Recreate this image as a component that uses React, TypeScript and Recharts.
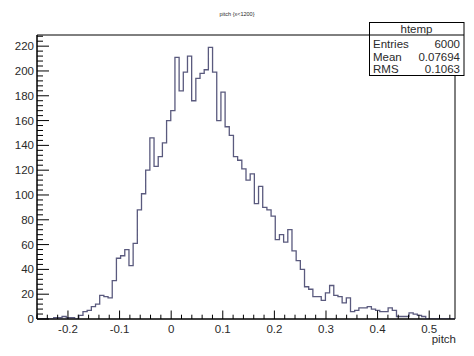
import React from "react";
import { LineChart, Line, XAxis, YAxis, ReferenceArea } from "recharts";

// ---- data ----
const X_MIN = -0.26;
const X_MAX = 0.55;
const N_BINS = 100;
const Y_MAX = 229;

const binCounts = [
  0, 0, 0, 0, 1, 1, 2, 1, 1, 0,
  3, 6, 7, 10, 12, 19, 18, 17, 31, 49,
  51, 56, 43, 61, 88, 101, 120, 146, 123, 131,
  142, 160, 168, 211, 184, 199, 212, 176, 194, 198,
  201, 219, 199, 160, 183, 155, 148, 131, 128, 121,
  112, 117, 93, 107, 90, 88, 83, 64, 68, 62,
  72, 55, 47, 40, 26, 24, 18, 18, 15, 21,
  27, 19, 18, 13, 17, 6, 7, 9, 9, 10,
  8, 7, 6, 6, 9, 7, 2, 2, 2, 5,
  4, 3, 2, 0, 0, 0, 0, 0, 0, 0,
];

const xMajorTicks = [-0.2, -0.1, 0, 0.1, 0.2, 0.3, 0.4, 0.5];
const xMajorLabels = ["-0.2", "-0.1", "0", "0.1", "0.2", "0.3", "0.4", "0.5"];
const yMajorTicks = [0, 20, 40, 60, 80, 100, 120, 140, 160, 180, 200, 220];

const histTitle = "pitch {x<1200}";
const xTitle = "pitch";
const statsName = "htemp";
const statsRows: [string, string][] = [
  ["Entries", "6000"],
  ["Mean", "0.07694"],
  ["RMS", "0.1063"],
];

// ---- derived ----
const binWidth = (X_MAX - X_MIN) / N_BINS;
const histData = binCounts.map((c, i) => ({ x: X_MIN + i * binWidth, count: c }));
histData.push({ x: X_MAX, count: binCounts[binCounts.length - 1] });

const xTicks: number[] = [];
for (let k = -13; k <= 27; k++) xTicks.push(Math.round(k * 2) / 100);
const yTicks: number[] = [];
for (let v = 0; v <= 228; v += 4) yTicks.push(v);

const FONT = "'Liberation Sans', Arial, Helvetica, sans-serif";
const TXT = "#2a2a2a";
const LINE = "#5a5a7e";

const XTick = (props: any) => {
  const { x, y, payload } = props;
  const v = payload.value;
  const idx = xMajorTicks.findIndex((m) => Math.abs(m - v) < 1e-6);
  const major = idx >= 0;
  return (
    <g>
      <line x1={x} x2={x} y1={y} y2={y - (major ? 8.5 : 4.3)} stroke="#000" strokeWidth={1} />
      {major && (
        <text x={x} y={y + 14} textAnchor="middle" fontSize={11.5} fontFamily={FONT} fill={TXT}>
          {xMajorLabels[idx]}
        </text>
      )}
    </g>
  );
};

const YTick = (props: any) => {
  const { x, y, payload } = props;
  const v = payload.value;
  const major = yMajorTicks.includes(v);
  return (
    <g>
      <line x1={x} x2={x + (major ? 12 : 6)} y1={y} y2={y} stroke="#000" strokeWidth={1} />
      {major && (
        <text x={x - 3} y={y + 4} textAnchor="end" fontSize={11.5} fontFamily={FONT} fill={TXT}>
          {v}
        </text>
      )}
    </g>
  );
};

export default function App() {
  return (
    <div style={{ position: "absolute", left: 0, top: 0, width: 474, height: 356, background: "#fff" }}>
      <LineChart
        width={474}
        height={356}
        data={histData}
        margin={{ top: 35, right: 19, left: 0, bottom: 0 }}
      >
        <XAxis
          dataKey="x"
          type="number"
          domain={[X_MIN, X_MAX]}
          ticks={xTicks}
          interval={0}
          allowDataOverflow
          height={37}
          tickSize={0}
          tickMargin={0}
          tickLine={false}
          axisLine={{ stroke: "#000" }}
          tick={<XTick />}
        />
        <YAxis
          type="number"
          domain={[0, Y_MAX]}
          ticks={yTicks}
          interval={0}
          allowDataOverflow
          width={37}
          tickSize={0}
          tickMargin={0}
          tickLine={false}
          axisLine={{ stroke: "#000" }}
          tick={<YTick />}
        />
        <ReferenceArea
          x1={X_MIN}
          x2={X_MAX}
          y1={0}
          y2={Y_MAX}
          fill="none"
          fillOpacity={0}
          stroke="#000"
          strokeWidth={1}
          ifOverflow="visible"
        />
        <Line
          type="stepAfter"
          dataKey="count"
          stroke={LINE}
          strokeWidth={1.3}
          dot={false}
          activeDot={false}
          isAnimationActive={false}
        />
      </LineChart>
      <svg
        width={474}
        height={356}
        style={{ position: "absolute", left: 0, top: 0, pointerEvents: "none" }}
      >
        <text x={237} y={16} textAnchor="middle" fontSize={5.5} fontFamily={FONT} fill={TXT}>
          {histTitle}
        </text>
        <text x={456} y={343} textAnchor="end" fontSize={11.5} fontFamily={FONT} fill={TXT}>
          {xTitle}
        </text>
        <rect x={369.5} y={22.5} width={94.5} height={53} fill="#fff" stroke="#000" strokeWidth={1} />
        <line x1={369.5} x2={464} y1={35} y2={35} stroke="#000" strokeWidth={1} />
        <text x={416.5} y={33} textAnchor="middle" fontSize={11.5} fontFamily={FONT} fill={TXT}>
          {statsName}
        </text>
        {statsRows.map((r, i) => (
          <g key={r[0]}>
            <text x={373} y={48 + i * 12.6} fontSize={11.5} fontFamily={FONT} fill={TXT}>
              {r[0]}
            </text>
            <text x={460} y={48 + i * 12.6} textAnchor="end" fontSize={11.5} fontFamily={FONT} fill={TXT}>
              {r[1]}
            </text>
          </g>
        ))}
      </svg>
    </div>
  );
}
